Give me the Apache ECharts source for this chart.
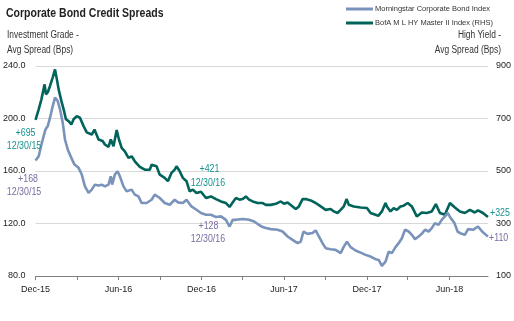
<!DOCTYPE html>
<html>
<head>
<meta charset="utf-8">
<script src="https://cdn.jsdelivr.net/npm/echarts@6/dist/echarts.min.js"></script>
<style>
  html, body { margin: 0; padding: 0; background: #fff; }
  #chart { width: 514px; height: 321px; }
</style>
</head>
<body>
<div id="chart"></div>
<script>
// Day offsets are counted from 30 Dec 2015 (first observation).
const hyDays = [0,7,13,20,23,27,32,38,43,47,51,57,62,67,73,79,84,91,98,106,113,124,130,139,148,153,161,166,172,179,184,190,197,205,212,219,230,241,252,256,267,274,285,292,300,307,311,318,325,333,340,347,355,365,376,387,398,409,420,428,434,442,450,457,464,471,479,490,501,508,519,530,541,548,556,567,574,581,589,596,607,618,629,640,651,658,666,673,680,686,691,702,717,731,739,750,756,764,772,775,783,790,797,805,812,821,830,841,852,863,874,883,892,903,914,925,936,947,958,969,976,987,998];
const hyValues = [695,735,773,830,792,800,824,857,887,850,811,767,735,697,690,677,697,709,703,671,647,639,658,620,614,601,592,620,594,656,620,588,575,550,556,537,516,505,505,524,518,486,474,461,493,505,518,499,474,461,422,429,416,421,397,403,393,384,378,363,378,397,391,393,403,391,384,378,378,371,371,375,384,375,380,365,355,365,393,393,388,378,365,352,355,346,340,352,365,393,371,365,361,359,340,333,329,346,378,365,346,359,352,365,368,378,365,327,342,340,346,374,340,333,378,361,346,340,352,342,350,340,325];

const igDays = [0,7,14,22,27,32,38,43,49,54,60,65,71,79,86,95,102,109,117,124,131,139,146,153,161,166,169,175,181,186,194,201,212,219,227,234,245,256,263,274,285,296,307,314,325,333,344,355,365,376,387,398,409,420,428,435,442,457,471,482,493,501,508,519,534,545,556,567,578,585,591,600,611,618,625,633,640,651,662,673,680,687,695,706,717,728,739,750,757,764,772,779,786,794,801,808,815,823,830,837,845,852,859,867,874,881,889,896,903,909,916,924,931,940,947,954,965,976,985,998];
const igValues = [168,171.3,181.5,191.7,194.2,200.6,209.5,215.9,213.3,207,196.8,184,176.4,170,164.9,162.4,157.3,148.3,143.3,145.8,149.6,148.9,149.6,148.3,149.6,156,149.6,157.3,159.8,156,148.3,144.5,145.8,142,140.7,135.6,135.6,138.1,142,139.4,135.6,134.3,138.1,136.1,135.6,138.1,133,130.5,128,126.7,126.7,124.9,125.4,122.8,117.7,122.8,122.8,123.4,122.8,121.5,119,117.3,116.5,115.7,115.2,113.9,110.1,107.5,105,106.2,113.9,112.1,112.7,114.7,110.1,105,101.2,100.4,99.9,97.4,102.4,106.2,102,99.4,97.8,96.1,94.8,92.8,92.2,87.7,90.9,98.6,97.4,102,105,108.8,115.2,113.9,111.4,108.1,110.1,112.1,115.2,113.9,116.5,120.3,119,122.8,125.4,128,124.1,120.3,113.9,112.1,111.4,115.7,115.2,117.7,113.9,110];

// Quarterly tick marks, half-yearly labels
const tickDates = ['2015-12-30','2016-03-30','2016-06-30','2016-09-30','2016-12-30','2017-03-30','2017-06-30','2017-09-30','2017-12-30','2018-03-30','2018-06-30'];
const labelDates = ['2015-12-30','2016-06-30','2016-12-30','2017-06-30','2017-12-30','2018-06-30'];
const tickLabels = ['Dec-15','Jun-16','Dec-16','Jun-17','Dec-17','Jun-18'];

const igTicks = [80, 120, 160, 200, 240];
const hyTicks = [100, 300, 500, 700, 900];

// Spread call-outs: [series, date, value, date caption]
const hyNotes = [['2015-12-30', 695], ['2016-12-30', 421]];
const igNotes = [['2015-12-30', 168], ['2016-12-30', 128]];

const FONT = "'Liberation Sans', Arial, sans-serif";
const NARROW = 0.84;               // horizontal squeeze to get a narrow face
const IG_COLOR = '#7a93ba';
const HY_COLOR = '#00645a';
const TEAL_TEXT = '#17928e';
const PURPLE_TEXT = '#7a6ba0';
const IG_NAME = 'Morningstar Corporate Bond Index';
const HY_NAME = 'BofA M L HY Master II Index (RHS)';

const DAY = 86400000;
const START = Date.UTC(2015, 11, 30);
const toTime = d => START + d * DAY;
const parseDate = s => { const p = s.split('-').map(Number); return Date.UTC(p[0], p[1] - 1, p[2]); };
const shortDate = s => { const p = s.split('-'); return Number(p[1]) + '/' + Number(p[2]) + '/' + p[0].slice(2); };

const hyData = hyDays.map((d, i) => [toTime(d), hyValues[i]]);
const igData = igDays.map((d, i) => [toTime(d), igValues[i]]);
const labelMap = {};
labelDates.forEach((s, i) => { labelMap[parseDate(s)] = tickLabels[i]; });

const chart = echarts.init(document.getElementById('chart'), null, { renderer: 'canvas' });
chart.setOption({
  animation: false,
  backgroundColor: '#fff',
  textStyle: { fontFamily: FONT },
  legend: {
    data: [IG_NAME, HY_NAME],
    orient: 'vertical', left: 346, top: 5, padding: 0, itemGap: 6,
    icon: 'rect', itemWidth: 27, itemHeight: 3,
    textStyle: { fontFamily: FONT, fontSize: 7.5, color: '#333', padding: [0, 0, 0, -3] }
  },
  grid: { left: 33, right: 25, top: 66, bottom: 45, containLabel: false },
  xAxis: {
    type: 'value',
    min: toTime(hyDays[0]), max: toTime(hyDays[hyDays.length - 1]),
    axisLine: { lineStyle: { color: '#7f7f7f', width: 1 } },
    axisTick: { show: true, length: 4, customValues: tickDates.map(parseDate), lineStyle: { color: '#7f7f7f' } },
    axisLabel: {
      customValues: labelDates.map(parseDate),
      formatter: v => labelMap[v] || '',
      fontFamily: FONT, fontSize: 9, color: '#222', margin: 9
    },
    splitLine: { show: false }
  },
  yAxis: [
    {
      type: 'value', min: igTicks[0], max: igTicks[igTicks.length - 1], interval: 40,
      axisLine: { show: false }, axisTick: { show: false },
      axisLabel: { formatter: v => v.toFixed(1), fontFamily: FONT, fontSize: 9, color: '#222', margin: 10 },
      splitLine: { show: true, lineStyle: { color: '#d9d9d9', width: 1 } }
    },
    {
      type: 'value', min: hyTicks[0], max: hyTicks[hyTicks.length - 1], interval: 200,
      position: 'right',
      axisLine: { show: false }, axisTick: { show: false },
      axisLabel: { fontFamily: FONT, fontSize: 9, color: '#222', margin: 8 },
      splitLine: { show: false }
    }
  ],
  series: [
    {
      name: HY_NAME, type: 'line', yAxisIndex: 1,
      data: hyData, showSymbol: false, color: HY_COLOR,
      lineStyle: { width: 2.6, color: HY_COLOR }
    },
    {
      name: IG_NAME, type: 'line', yAxisIndex: 0,
      data: igData, showSymbol: false, color: IG_COLOR,
      lineStyle: { width: 2.6, color: IG_COLOR }
    }
  ]
});

// Text drawn with a horizontal squeeze (condensed look)
function txt(x, y, text, size, color, align, bold) {
  return {
    type: 'text', x: x, y: y, scaleX: NARROW, z: 100,
    style: {
      text: text, font: (bold ? 'bold ' : '') + size + 'px ' + FONT, fill: color,
      textAlign: align || 'left', textVerticalAlign: 'middle'
    }
  };
}
const px = (axis, date, v) => chart.convertToPixel({ xAxisIndex: 0, yAxisIndex: axis }, [parseDate(date), v]);

const g = [
  txt(6, 14, 'Corporate Bond Credit Spreads', 12.5, '#222', 'left', true),
  txt(7, 35, 'Investment Grade -', 10, '#333'),
  txt(7, 50, 'Avg Spread (Bps)', 10, '#333'),
  txt(501, 35, 'High Yield -', 10, '#333', 'right'),
  txt(501, 50, 'Avg Spread (Bps)', 10, '#333', 'right')
];

// Start-of-period call-outs
{
  const p = px(1, hyNotes[0][0], hyNotes[0][1]);
  g.push(txt(p[0] - 10, p[1] + 13, '+' + hyNotes[0][1], 10.5, TEAL_TEXT, 'center'));
  g.push(txt(p[0] - 11.5, p[1] + 26.5, shortDate(hyNotes[0][0]), 10.5, TEAL_TEXT, 'center'));
}
{
  const p = px(0, igNotes[0][0], igNotes[0][1]);
  g.push(txt(p[0] - 7.5, p[1] + 19, '+' + igNotes[0][1], 10.5, PURPLE_TEXT, 'center'));
  g.push(txt(p[0] - 11.5, p[1] + 31.5, shortDate(igNotes[0][0]), 10.5, PURPLE_TEXT, 'center'));
}
{
  const p = px(1, hyNotes[1][0], hyNotes[1][1]);
  g.push(txt(p[0] + 8, p[1] - 23, '+' + hyNotes[1][1], 10.5, TEAL_TEXT, 'center'));
  g.push(txt(p[0] + 6.5, p[1] - 9, shortDate(hyNotes[1][0]), 10.5, TEAL_TEXT, 'center'));
}
{
  const p = px(0, igNotes[1][0], igNotes[1][1]);
  g.push(txt(p[0] + 7, p[1] + 13.5, '+' + igNotes[1][1], 10.5, PURPLE_TEXT, 'center'));
  g.push(txt(p[0] + 6.5, p[1] + 26.5, shortDate(igNotes[1][0]), 10.5, PURPLE_TEXT, 'center'));
}
// End-of-period values
{
  const last = hyValues.length - 1;
  const p = chart.convertToPixel({ xAxisIndex: 0, yAxisIndex: 1 }, [toTime(hyDays[last]), hyValues[last]]);
  g.push(txt(p[0] + 2, p[1] - 4, '+' + hyValues[last], 10.5, TEAL_TEXT, 'left'));
}
{
  const last = igValues.length - 1;
  const p = chart.convertToPixel({ xAxisIndex: 0, yAxisIndex: 0 }, [toTime(igDays[last]), igValues[last]]);
  g.push(txt(p[0] + 1, p[1] + 1, '+' + igValues[last], 10.5, PURPLE_TEXT, 'left'));
}
chart.setOption({ graphic: g });
</script>
</body>
</html>
